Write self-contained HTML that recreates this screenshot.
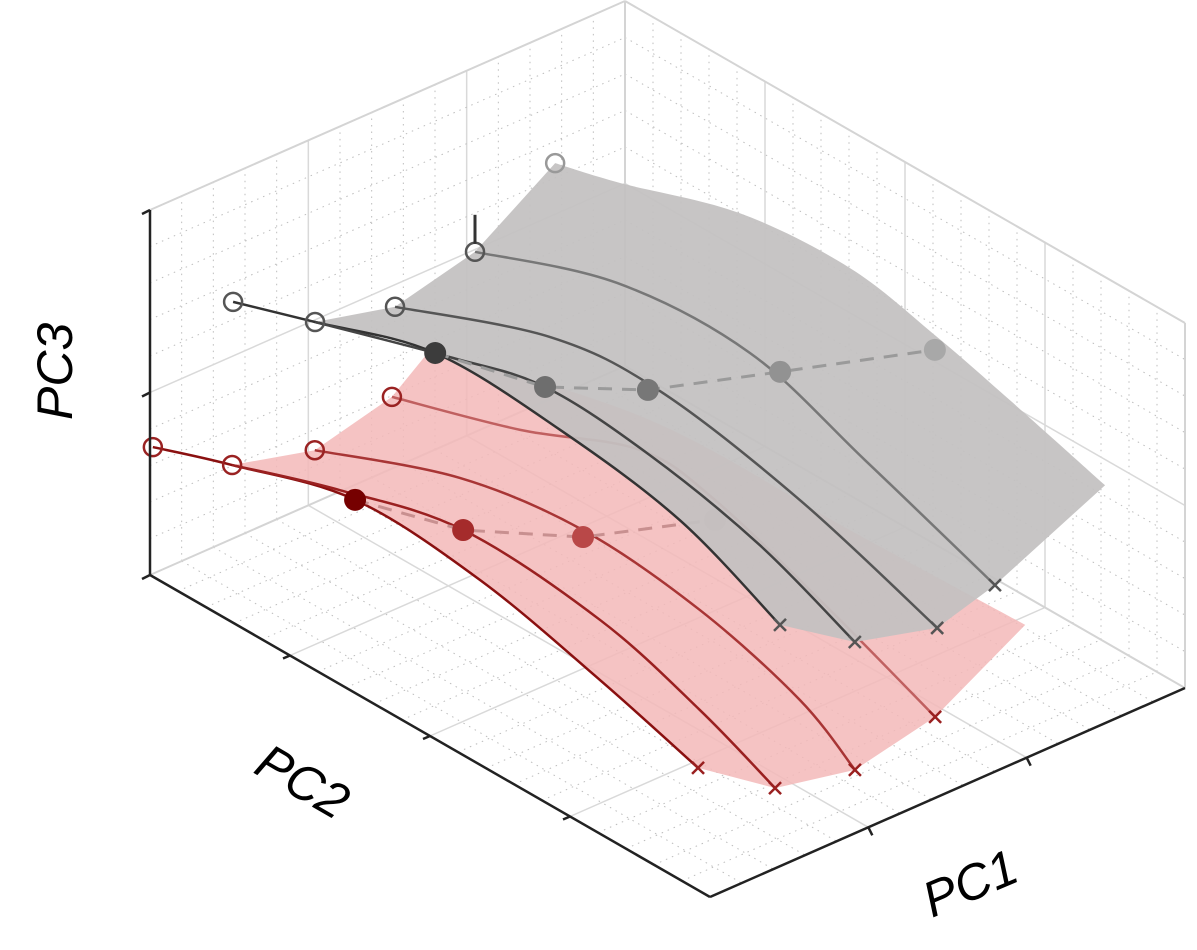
<!DOCTYPE html>
<html><head><meta charset="utf-8"><style>
html,body{margin:0;padding:0;background:#fff;}
svg{display:block;}
text{font-family:"Liberation Sans",sans-serif;font-style:italic;fill:#000;}
</style></head><body>
<svg id="chart" width="1197" height="950" viewBox="0 0 1197 950" xmlns="http://www.w3.org/2000/svg">
<g id="grid"></g>
<g id="marks"></g>
<g id="axes"></g>
<text x="0" y="0" font-size="50" transform="translate(72,420) rotate(-90)">PC3</text>
<text x="0" y="0" font-size="50" transform="translate(252,772) rotate(30)">PC2</text>
<text x="0" y="0" font-size="50" transform="translate(932,918) rotate(-23)">PC1</text>
</svg>
<script>
// Trajectory data: each point is [PC1, PC2, PC3] (normalized axis units)
const grayTraj1 = [[0.116,0.05,0.726],[0.206,0.12,0.681],[0.341,0.22,0.607],[0.451,0.35,0.448],[0.526,0.5,0.290],[0.56,0.65,0.116]];
const grayTraj2 = [[0.206,0.12,0.681],[0.372,0.22,0.578],[0.478,0.3,0.506],[0.557,0.42,0.380],[0.612,0.57,0.234],[0.635,0.72,0.088]];
const grayTraj3 = [[0.339,0.15,0.673],[0.524,0.27,0.590],[0.637,0.37,0.466],[0.72,0.55,0.278],[0.773,0.75,0.074]];
const grayTraj4 = [[0.472,0.18,0.774],[0.688,0.25,0.627],[0.874,0.33,0.399],[0.963,0.46,0.169],[0.930,0.72,0.075]];
const grayEdge  = [[0.84,0.011,0.657],[0.84,0.127,0.705],[0.84,0.341,0.811],[0.84,0.5375,0.834],[0.84,0.689,0.784],[0.84,0.823,0.724],[0.84,0.993,0.641]];
const redTraj1 = [[0.006,0.0,0.347],[0.055,0.1,0.358],[0.137,0.25,0.348],[0.2,0.42,0.242],[0.24,0.6,0.104],[0.246,0.77,0.01]];
const redTraj2 = [[0.055,0.1,0.358],[0.164,0.2,0.315],[0.282,0.32,0.244],[0.358,0.5,0.113],[0.356,0.68,0.026],[0.302,0.86,0.002]];
const redTraj3 = [[0.229,0.1,0.299],[0.393,0.22,0.235],[0.499,0.35,0.146],[0.509,0.55,0.098],[0.496,0.74,0.026],[0.423,0.9,0.018]];
const redTraj4 = [[0.415,0.08,0.321],[0.52,0.22,0.294],[0.678,0.3,0.219],[0.718,0.4,0.147],[0.724,0.6,0.019],[0.639,0.86,0.004]];
const redEdge  = [[0.531,0.05,0.357],[0.817,0.2,0.133],[0.884,0.5,0.058],[0.923,0.78,0.023]];
const grayDots = [[0.341,0.22,0.607],[0.478,0.3,0.506],[0.612,0.37,0.483],[0.914,0.35,0.342],[0.945,0.6,0.605]];
const grayDotColors = ["#3c3c3c","#6e6e6e","#777777","#929292","#a8a8a8"];
const redDots = [[0.137,0.25,0.348],[0.282,0.32,0.244],[0.499,0.35,0.127],[0.718,0.4,0.093]];
const redDotColors = ["#760000","#a52b2b","#b94848","#dcaaaa"];
const pc3Ticks = [0,0.5,1];
const pc2Ticks = [0.25,0.5,0.75];
const pc1Ticks = [1/3,2/3];

const NS="http://www.w3.org/2000/svg";
function px(p){return 150+475*p[0]+560*p[1];}
function py(p){return 575-209*p[0]+322*p[1]-365*p[2];}
function mk(parent,tag,attrs){const e=document.createElementNS(NS,tag);for(const k in attrs)e.setAttribute(k,attrs[k]);parent.appendChild(e);return e;}
function line(parent,p,q,stroke,w,dash){return mk(parent,'line',{x1:px(p),y1:py(p),x2:px(q),y2:py(q),stroke:stroke,'stroke-width':w,'stroke-dasharray':dash||'none'});}
function segs(pts){
  const P=pts.map(p=>[px(p),py(p)]);
  let d='';
  for(let i=0;i<P.length-1;i++){
    const p0=P[Math.max(i-1,0)],p1=P[i],p2=P[i+1],p3=P[Math.min(i+2,P.length-1)];
    const c1=[p1[0]+(p2[0]-p0[0])/6,p1[1]+(p2[1]-p0[1])/6];
    const c2=[p2[0]-(p3[0]-p1[0])/6,p2[1]-(p3[1]-p1[1])/6];
    d+=` C${c1[0]},${c1[1]} ${c2[0]},${c2[1]} ${p2[0]},${p2[1]}`;
  }
  return d;
}
function smooth(pts){return `M${px(pts[0])},${py(pts[0])}`+segs(pts);}
const grid=document.getElementById('grid');
const marks=document.getElementById('marks');
const axes=document.getElementById('axes');
const dot='1.5 5', minC='#bdbdbd', majC='#d9d9d9';
for(let k=0;k<=15;k++){const a=k/15;const maj=(k===5||k===10);
  const g=line(grid,[a,0,0],[a,0,1],maj?majC:minC,maj?1.5:1,maj?null:dot);
   }
for(let k=1;k<10;k++){const c=k/10;const maj=(k===5);
  const g=line(grid,[0,0,c],[1,0,c],maj?majC:minC,maj?1.5:1,maj?null:dot);
   }
for(let k=1;k<20;k++){const b=k/20;const maj=(k%5===0);
  const g=line(grid,[1,b,0],[1,b,1],maj?majC:minC,maj?1.5:1,maj?null:dot);
   }
for(let k=1;k<10;k++){const c=k/10;const maj=(k===5);
  const g=line(grid,[1,0,c],[1,1,c],maj?majC:minC,maj?1.5:1,maj?null:dot);
   }
for(let k=1;k<15;k++){const a=k/15;const maj=(k===5||k===10);
  const g=line(grid,[a,0,0],[a,1,0],maj?majC:minC,maj?1.5:1,maj?null:dot);
   }
for(let k=1;k<20;k++){const b=k/20;const maj=(k%5===0);
  const g=line(grid,[0,b,0],[1,b,0],maj?majC:minC,maj?1.5:1,maj?null:dot);
   }
[[[0,0,1],[1,0,1]],[[1,0,1],[1,1,1]],[[1,0,0],[1,0,1]],[[0,0,0],[1,0,0]],[[1,0,0],[1,1,0]],[[1,1,0],[1,1,1]]].forEach(e=>{
  const l=line(grid,e[0],e[1],'#d4d4d4',2);
   });

function surfacePath(t1,others,edge){
  const first=t1.slice(1);
  let d=smooth(first);
  others.forEach(t=>{const p=t[t.length-1]; d+=` L${px(p)},${py(p)}`;});
  const er=edge.slice().reverse();
  d+=` L${px(er[0])},${py(er[0])}`+segs(er);
  others.slice().reverse().forEach(t=>{const p=t[0]; d+=` L${px(p)},${py(p)}`;});
  return d+' Z';
}
function drawCurve(pts,color,w,name){
  const p=mk(marks,'path',{d:smooth(pts),fill:'none',stroke:color,'stroke-width':w});
   
}
function openCircle(p,color,name){
  const c=mk(marks,'circle',{cx:px(p),cy:py(p),r:9,fill:'none',stroke:color,'stroke-width':2.5});
   
}
function xMark(p,color,name){
  const x=px(p),y=py(p);
  const e=mk(marks,'path',{d:`M${x-6},${y-6} L${x+6},${y+6} M${x+6},${y-6} L${x-6},${y+6}`,stroke:color,'stroke-width':2.5});
   
}
function dots(arr,cols,name,dashColor){
  const dl=mk(marks,'path',{d:'M'+arr.map(p=>px(p)+','+py(p)).join(' L'),fill:'none',stroke:dashColor,'stroke-width':3,'stroke-dasharray':'14 10'});
   
  arr.forEach((p,i)=>{const c=mk(marks,'circle',{cx:px(p),cy:py(p),r:11,fill:cols[i]});
     });
}
const redT=[redTraj1,redTraj2,redTraj3,redTraj4];
const rs=mk(marks,'path',{d:surfacePath(redTraj1,[redTraj2,redTraj3,redTraj4],redEdge),fill:'#f3b9b9',opacity:0.85});
 
const redCols=['#8a1010','#9a2020','#a83535','#c06060'];
redT.forEach((t,i)=>drawCurve(t,redCols[i],2.5,'red-trajectory'));
dots(redDots,redDotColors,'red-marker','#c89090');
redT.forEach(t=>openCircle(t[0],'#9a2222','red-start-marker'));
redT.forEach(t=>xMark(t[t.length-1],'#9a2020','red-end-marker'));
const grayT=[grayTraj1,grayTraj2,grayTraj3,grayTraj4];
const gs=mk(marks,'path',{d:surfacePath(grayTraj1,[grayTraj2,grayTraj3,grayTraj4],grayEdge),fill:'#c3c1c1',opacity:0.93});
 
const grayCols=['#333333','#444444','#555555','#777777'];
grayT.forEach((t,i)=>drawCurve(t,grayCols[i],2.5,'gray-trajectory'));
dots(grayDots,grayDotColors,'gray-marker','#9a9a9a');
grayT.forEach(t=>openCircle(t[0],'#555555','gray-start-marker'));
openCircle(grayEdge[0],'#999999','gray-start-marker');
grayT.forEach(t=>xMark(t[t.length-1],'#555555','gray-end-marker'));
const st=mk(marks,'line',{x1:px(grayTraj4[0]),y1:py(grayTraj4[0])-37,x2:px(grayTraj4[0]),y2:py(grayTraj4[0])-8,stroke:'#333','stroke-width':3});
 
const a3=line(axes,[0,0,0],[0,0,1],'#222',2.5);  
const a2=line(axes,[0,0,0],[0,1,0],'#222',2.5);  
const a1=line(axes,[0,1,0],[1,1,0],'#222',2.5);  
pc3Ticks.forEach(c=>{const p=[0,0,c];const t=mk(axes,'line',{x1:px(p),y1:py(p),x2:px(p)-8,y2:py(p)+4,stroke:'#222','stroke-width':2.5});
   });
pc2Ticks.forEach(b=>{const p=[0,b,0];const t=mk(axes,'line',{x1:px(p),y1:py(p),x2:px(p)-7,y2:py(p)+3,stroke:'#222','stroke-width':2.5});
   });
pc1Ticks.forEach(a=>{const p=[a,1,0];const t=mk(axes,'line',{x1:px(p),y1:py(p),x2:px(p)+4,y2:py(p)+8,stroke:'#222','stroke-width':2.5});
   });
</script>
</body></html>
